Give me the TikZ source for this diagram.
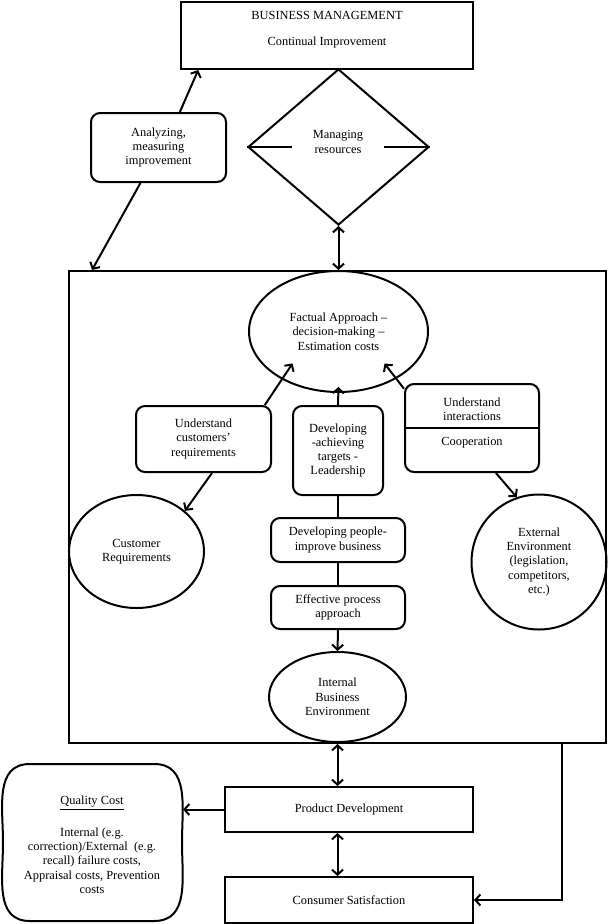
\documentclass[tikz,border=0pt]{standalone}
\usepackage{fontspec}
\setmainfont{Liberation Serif}
\usetikzlibrary{arrows.meta,shapes.geometric,calc}
\begin{document}
\begin{tikzpicture}[x=1pt,y=-1pt,line width=2pt,
  every node/.style={font=\fontsize{12.4}{14.3}\selectfont,align=center},
  box/.style={draw,rectangle,inner sep=0pt},
  rbox/.style={draw,rectangle,rounded corners=9pt,inner sep=0pt},
  ell/.style={draw,ellipse,inner sep=0pt},
  txt/.style={inner sep=0pt},
  arr/.style={-{Straight Barb[length=5pt,width=11pt]}},
  darr/.style={{Straight Barb[length=5pt,width=11pt]}-{Straight Barb[length=5pt,width=11pt]}}]
\useasboundingbox (0,0) rectangle (609,924);

% top
\node[box,minimum width=292pt,minimum height=67pt] (top) at (327,35.5) {};
\node[txt] (topt) at (327,29.5) {BUSINESS MANAGEMENT\\[12pt]Continual Improvement};

\node[rbox,minimum width=135pt,minimum height=69pt] (anal) at (158.5,147.5) {Analyzing,\\measuring\\improvement};

\node[draw,diamond,minimum width=181pt,minimum height=156pt,inner sep=0pt] (dia) at (338.5,147) {};
\draw (dia.west) -- ++(45,0);
\draw (dia.east) -- ++(-46,0);
\node[txt] (diat) at (338,142) {Managing\\resources};

% outer frame
\node[box,minimum width=537pt,minimum height=472pt] (outer) at (337.5,507) {};

\node[ell,minimum width=179pt,minimum height=121pt] (fact) at (338.5,331.5) {Factual Approach –\\decision-making –\\Estimation costs};

\node[rbox,minimum width=135pt,minimum height=66pt] (cust) at (203.5,439) {Understand\\customers'\\requirements};
\node[rbox,minimum width=90pt,minimum height=89pt] (dev) at (338,450.5) {Developing\\-achieving\\targets -\\Leadership};
\node[rbox,minimum width=134pt,minimum height=88pt] (inter) at (472,428) {};
\draw (inter.west) -- (inter.east);
\node[txt] (intA) at (472,409) {Understand\\interactions};
\node[txt] (intB) at (472,443) {Cooperation};

\node[ell,minimum width=135pt,minimum height=113pt] (creq) at (136.5,551.5) {Customer\\Requirements};
\node[draw,circle,minimum size=135pt,inner sep=0pt] (ext) at (539,562) {External\\Environment\\(legislation,\\competitors,\\etc.)};

\node[rbox,minimum width=134pt,minimum height=44pt] (devp) at (338,540) {Developing people-\\improve business};
\node[rbox,minimum width=134pt,minimum height=43pt] (eff) at (338,607.5) {Effective process\\approach};
\node[ell,minimum width=137pt,minimum height=90pt] (ibe) at (337.5,697) {Internal\\Business\\Environment};

% bottom
\node[box,minimum width=248pt,minimum height=45pt] (pd) at (349,809.5) {Product Development};
\node[box,minimum width=248pt,minimum height=46pt] (cs) at (349,900) {Consumer Satisfaction};

\draw (30,764) -- (154,764) to[out=0,in=90,looseness=1.1] (182,842.5) to[out=-90,in=0,looseness=1.1] (154,921) -- (30,921) to[out=180,in=-90,looseness=1.1] (3,842.5) to[out=90,in=180,looseness=1.1] cycle;
\coordinate (qcE) at (183,809.5);
\node[txt] (qct) at (92,803) {\underline{Quality Cost}};
\node[txt] (qcb) at (92,860.5) {Internal (e.g.\\correction)/External\ \ (e.g.\\recall) failure costs,\\Appraisal costs, Prevention\\costs};

% connectors
\draw[arr] (anal.59) -- (top.195);
\draw[arr] (anal.243) -- (outer.136);
\draw[darr] (dia.south) -- (dia.south |- outer.north);
\draw[arr] (cust.29) -- ($(fact.center)+(-46,32)$);
\draw[arr] (dev.north) -- ($(fact.south)+(0,-6)$);
\draw[arr] (inter.150) -- ($(fact.center)+(46,32)$);
\draw[arr] (cust.284) -- (creq.40);
\draw[arr] (inter.-62) -- (ext.109);
\draw (dev.south) -- (devp.north);
\draw (devp.south) -- (eff.north);
\draw[arr] (eff.south) -- (ibe.north);
\draw[darr] (outer.south) -- (outer.south |- pd.north);
\draw[darr] (pd.south -| outer.south) -- (cs.north -| outer.south);
\draw[arr] (pd.west) -- (qcE);
\coordinate (rc) at (562,0);
\draw[arr] (outer.south -| rc) |- (cs.east);
\end{tikzpicture}
\end{document}
